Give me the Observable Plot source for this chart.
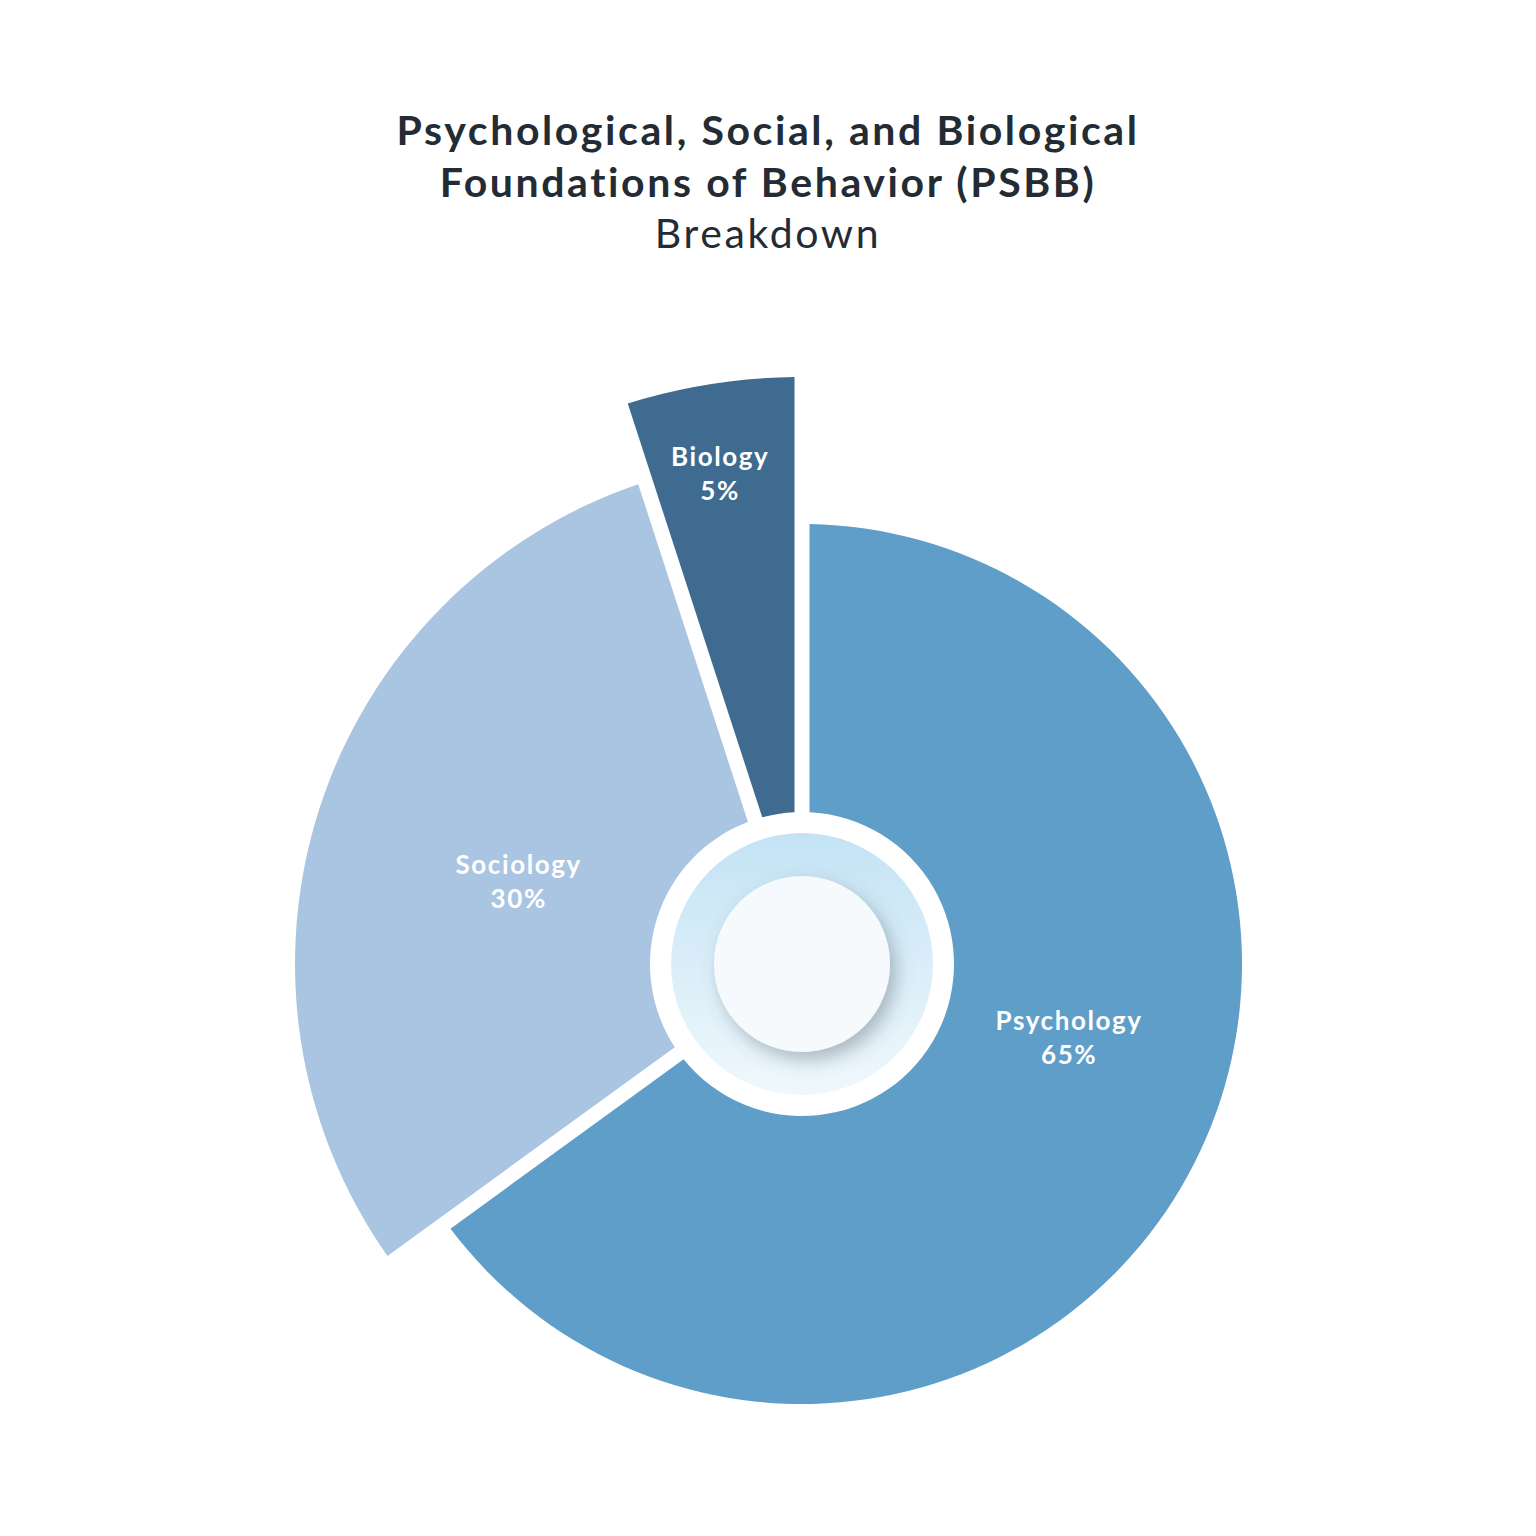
<!DOCTYPE html>
<html><head><meta charset="utf-8">
<script src="https://cdn.jsdelivr.net/npm/d3@7"></script>
<script src="https://cdn.jsdelivr.net/npm/@observablehq/plot@0.6"></script>
<style>
body{margin:0;background:#fff;}
#wrap{width:1536px;}
#title{height:280px;box-sizing:border-box;padding-top:104px;text-align:center;font-family:Lato, "Open Sans", sans-serif;color:#232b35;}
.t1{font-weight:700;font-size:41px;line-height:52px;letter-spacing:2.6px;}
.t2{font-weight:400;font-size:41px;line-height:50px;letter-spacing:2.6px;}
</style></head><body>
<div id="wrap">
<div id="title">
<div class="t1">Psychological, Social, and Biological</div>
<div class="t1">Foundations of Behavior (PSBB)</div>
<div class="t2">Breakdown</div>
</div>
<div id="chart"></div>
</div>
<script>
// ---- data ----
const categories = ["Psychology", "Sociology", "Biology"];
const shares = [65, 30, 5];
const shareLabels = ["65%", "30%", "5%"];

// ---- layout / style (not data) ----
const colors = {Psychology: "#5f9ec9", Sociology: "#aac5e2", Biology: "#3e6b8f"};
const outerRadius = {Psychology: 440, Sociology: 507, Biology: 587};
const labelRadius = {Psychology: 276, Sociology: 296, Biology: 499};
const labelNudgeDeg = {Psychology: -12, Sociology: -1.5, Biology: -0.5};
const innerR = 152, gapPx = 15, padR = 500;
const W = 1536, H = 1256, CX = 802, CY = 684;

const total = d3.sum(shares);
let acc = 0;
const slices = categories.map((c, i) => {
  const a0 = acc / total * 2 * Math.PI;
  acc += shares[i];
  const a1 = acc / total * 2 * Math.PI;
  return {category: c, value: shares[i], label: shareLabels[i], a0, a1};
});
const labels = slices.map(s => {
  const a = (s.a0 + s.a1) / 2 + labelNudgeDeg[s.category] * Math.PI / 180;
  const r = labelRadius[s.category];
  return {x: r * Math.sin(a), y: -r * Math.cos(a), text: s.category + "\n" + s.label};
});

function arcs(index, scales) {
  const cx = scales.x(0), cy = scales.y(0), k = scales.x(1) - scales.x(0);
  const g = d3.create("svg:g").attr("transform", `translate(${cx},${cy})`);
  const arc = d3.arc()
    .innerRadius(innerR * k)
    .outerRadius(d => outerRadius[d.category] * k)
    .startAngle(d => d.a0).endAngle(d => d.a1)
    .padRadius(padR * k).padAngle(gapPx / padR);
  g.selectAll("path").data(slices).join("path")
    .attr("d", arc).attr("fill", d => colors[d.category]);
  return g.node();
}

function hub(index, scales) {
  const cx = scales.x(0), cy = scales.y(0), k = scales.x(1) - scales.x(0);
  const g = d3.create("svg:g");
  const defs = g.append("defs");
  const lg = defs.append("linearGradient").attr("id", "hubGrad").attr("x1", 0).attr("y1", 0).attr("x2", 0).attr("y2", 1);
  lg.append("stop").attr("offset", "0%").attr("stop-color", "#c3e3f5");
  lg.append("stop").attr("offset", "100%").attr("stop-color", "#f0f8fc");
  const f = defs.append("filter").attr("id", "hubShadow").attr("x", "-30%").attr("y", "-30%").attr("width", "170%").attr("height", "170%");
  f.append("feDropShadow").attr("dx", 6).attr("dy", 8).attr("stdDeviation", 9)
    .attr("flood-color", "#4d5e6b").attr("flood-opacity", 0.4);
  g.append("circle").attr("cx", cx).attr("cy", cy).attr("r", 131 * k).attr("fill", "url(#hubGrad)");
  g.append("circle").attr("cx", cx).attr("cy", cy).attr("r", 88 * k).attr("fill", "#f6fafc").attr("filter", "url(#hubShadow)");
  return g.node();
}

const chart = Plot.plot({
  width: W, height: H,
  margin: 0,
  x: {domain: [-CX, W - CX], range: [0, W], axis: null},
  y: {domain: [-CY, H - CY], range: [0, H], axis: null},
  style: {background: "white", overflow: "visible", letterSpacing: "1.6px"},
  marks: [
    arcs,
    hub,
    Plot.text(labels, {x: "x", y: "y", text: "text", fill: "white", fontSize: 26, fontWeight: 700,
      lineHeight: 1.3, fontFamily: "Lato, 'Open Sans', sans-serif"})
  ]
});
document.getElementById("chart").appendChild(chart);
</script>
</body></html>
